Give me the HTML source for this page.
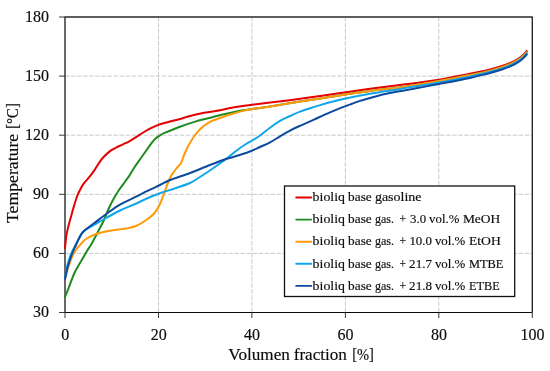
<!DOCTYPE html><html><head><meta charset="utf-8"><title>Distillation curves</title>
<style>html,body{margin:0;padding:0;background:#fff}svg{display:block}text{font-family:"Liberation Serif","DejaVu Serif",serif;fill:#0c0c0c;stroke:#0c0c0c;stroke-width:.16px}</style></head><body>
<svg width="550" height="371" viewBox="0 0 550 371">
<rect width="550" height="371" fill="#fff"/>
<g stroke="#c9c9cb" stroke-width="1" stroke-dasharray="4.5 1.55" fill="none"><line x1="65.0" y1="253.4" x2="532.3" y2="253.4"/><line x1="65.0" y1="194.3" x2="532.3" y2="194.3"/><line x1="65.0" y1="135.2" x2="532.3" y2="135.2"/><line x1="65.0" y1="76.1" x2="532.3" y2="76.1"/><line x1="158.5" y1="17.0" x2="158.5" y2="312.5"/><line x1="251.9" y1="17.0" x2="251.9" y2="312.5"/><line x1="345.4" y1="17.0" x2="345.4" y2="312.5"/><line x1="438.8" y1="17.0" x2="438.8" y2="312.5"/></g>
<path d="M65.0 312.5 V17.0 H532.3 V312.5" fill="none" stroke="#2a2a2a" stroke-width="1.4" stroke-linejoin="round"/>
<line x1="59.0" y1="312.5" x2="532.3" y2="312.5" stroke="#0a0a0a" stroke-width="1"/>
<g stroke="#3a3a3a" stroke-width="1"><line x1="59.0" y1="312.5" x2="65.0" y2="312.5"/><line x1="65.0" y1="312.5" x2="65.0" y2="318.0"/><line x1="59.0" y1="253.4" x2="65.0" y2="253.4"/><line x1="158.5" y1="312.5" x2="158.5" y2="318.0"/><line x1="59.0" y1="194.3" x2="65.0" y2="194.3"/><line x1="251.9" y1="312.5" x2="251.9" y2="318.0"/><line x1="59.0" y1="135.2" x2="65.0" y2="135.2"/><line x1="345.4" y1="312.5" x2="345.4" y2="318.0"/><line x1="59.0" y1="76.1" x2="65.0" y2="76.1"/><line x1="438.8" y1="312.5" x2="438.8" y2="318.0"/><line x1="59.0" y1="17.0" x2="65.0" y2="17.0"/><line x1="532.3" y1="312.5" x2="532.3" y2="318.0"/></g>
<path d="M65.0 248.0C65.2 246.0 65.8 239.5 66.3 236.0C66.8 232.5 67.5 230.0 68.2 227.0C68.9 224.0 69.7 221.2 70.6 218.0C71.5 214.8 72.3 211.7 73.4 208.0C74.5 204.3 76.0 199.2 77.2 196.0C78.4 192.8 79.4 191.1 80.5 189.0C81.6 186.9 82.6 185.1 84.0 183.2C85.4 181.3 87.3 179.4 89.0 177.4C90.7 175.4 92.4 173.2 94.0 170.9C95.6 168.6 96.9 166.0 98.5 163.7C100.1 161.4 101.5 159.2 103.6 157.0C105.7 154.8 108.6 152.2 111.0 150.4C113.4 148.7 115.8 147.7 118.2 146.5C120.6 145.3 123.5 144.1 125.5 143.2C127.5 142.3 128.2 141.9 130.0 140.9C131.8 139.9 133.7 138.7 136.0 137.2C138.3 135.7 141.3 133.6 144.0 132.0C146.7 130.4 149.3 128.9 152.0 127.6C154.7 126.3 157.0 125.2 160.0 124.2C163.0 123.2 166.7 122.4 170.0 121.5C173.3 120.6 175.7 120.2 180.0 119.0C184.3 117.8 190.0 115.7 196.0 114.4C202.0 113.1 209.3 112.2 216.0 111.0C222.7 109.8 230.0 108.0 236.0 107.0C242.0 106.0 246.3 105.5 252.0 104.8C257.7 104.1 262.0 103.6 270.0 102.6C278.0 101.6 287.4 100.5 300.0 98.8C312.6 97.1 333.9 94.0 345.6 92.3C357.3 90.6 360.9 90.0 370.0 88.8C379.1 87.6 388.5 86.6 400.0 85.1C411.5 83.6 427.3 81.7 439.0 79.8C450.7 77.9 462.1 75.3 470.0 73.8C477.9 72.2 480.9 71.8 486.4 70.5C491.8 69.2 498.2 67.3 502.7 65.8C507.2 64.3 510.7 62.8 513.6 61.4C516.5 60.0 518.2 58.8 520.0 57.5C521.8 56.2 523.4 54.7 524.5 53.6C525.6 52.5 526.3 51.4 526.7 51.0" fill="none" stroke="#e60000" stroke-width="2" stroke-linecap="round" stroke-linejoin="round"/>
<path d="M65.0 297.0C65.7 295.3 67.5 290.8 69.0 287.0C70.5 283.2 72.2 278.0 74.0 274.0C75.8 270.0 77.8 266.8 80.0 263.0C82.2 259.2 85.1 254.2 87.0 251.0C88.9 247.8 89.7 247.2 91.5 244.0C93.3 240.8 95.7 236.0 97.8 232.0C99.9 228.0 102.1 224.0 104.0 220.0C105.9 216.0 107.5 211.3 109.0 208.0C110.5 204.7 111.3 203.0 113.0 200.0C114.7 197.0 117.0 193.0 119.0 190.0C121.0 187.0 123.0 184.4 124.8 182.0C126.5 179.6 128.2 177.4 129.5 175.5C130.8 173.6 131.4 172.3 132.3 170.8C133.2 169.3 134.1 167.9 135.0 166.5C135.9 165.1 136.5 164.3 138.0 162.2C139.5 160.1 142.1 156.4 143.8 154.0C145.5 151.6 146.8 149.7 148.0 148.0C149.2 146.3 150.0 145.1 151.0 143.8C152.0 142.5 153.0 141.3 154.0 140.2C155.0 139.1 156.0 138.2 157.0 137.4C158.0 136.6 158.7 136.1 160.0 135.3C161.3 134.5 163.3 133.4 165.0 132.7C166.7 131.9 167.5 131.8 170.0 130.8C172.5 129.8 175.7 128.4 180.0 126.8C184.3 125.2 191.3 122.8 196.0 121.4C200.7 120.0 203.3 119.5 208.0 118.3C212.7 117.1 218.7 115.5 224.0 114.3C229.3 113.0 235.3 111.7 240.0 110.8C244.7 109.9 247.0 109.8 252.0 109.1C257.0 108.4 262.0 107.8 270.0 106.5C278.0 105.2 287.4 103.6 300.0 101.6C312.6 99.6 333.9 96.4 345.6 94.6C357.3 92.8 360.9 92.1 370.0 90.9C379.1 89.7 388.5 89.1 400.0 87.4C411.5 85.8 427.3 83.1 439.0 81.0C450.7 78.9 462.1 76.6 470.0 75.0C477.9 73.4 480.9 73.0 486.4 71.6C491.8 70.3 498.2 68.4 502.7 66.9C507.2 65.4 510.7 63.9 513.6 62.5C516.5 61.1 518.2 59.9 520.0 58.6C521.8 57.3 523.4 55.8 524.5 54.7C525.6 53.6 526.3 52.5 526.7 52.1" fill="none" stroke="#1f8a1f" stroke-width="2" stroke-linecap="round" stroke-linejoin="round"/>
<path d="M65.0 279.0C65.5 277.2 66.8 271.7 68.0 268.0C69.2 264.3 70.7 260.0 72.0 257.0C73.3 254.0 74.7 252.0 76.0 250.0C77.3 248.0 78.3 246.8 80.0 245.0C81.7 243.2 83.3 240.8 86.0 239.0C88.7 237.2 92.0 235.4 96.0 234.0C100.0 232.6 105.0 231.6 110.0 230.7C115.0 229.8 121.7 229.3 126.0 228.5C130.3 227.7 132.5 227.5 136.0 226.0C139.5 224.5 143.8 221.8 147.0 219.5C150.2 217.2 152.8 215.1 155.0 212.5C157.2 209.9 158.4 207.4 160.0 204.0C161.6 200.6 162.9 196.3 164.6 192.0C166.3 187.7 168.1 181.8 170.0 178.0C171.9 174.2 174.2 171.5 176.0 169.0C177.8 166.5 179.6 165.5 181.0 163.0C182.4 160.5 183.3 156.8 184.5 154.0C185.7 151.2 186.9 148.4 188.2 146.0C189.4 143.6 190.8 141.4 192.0 139.5C193.2 137.6 194.3 136.1 195.5 134.6C196.7 133.1 197.8 131.7 199.0 130.4C200.2 129.1 201.2 128.0 203.0 126.6C204.8 125.2 207.2 123.2 210.0 121.8C212.8 120.4 216.3 119.3 220.0 118.0C223.7 116.7 228.0 115.2 232.0 114.0C236.0 112.8 240.7 111.4 244.0 110.6C247.3 109.8 247.7 109.8 252.0 109.1C256.3 108.4 262.0 107.8 270.0 106.5C278.0 105.2 287.4 103.6 300.0 101.6C312.6 99.6 333.9 96.4 345.6 94.6C357.3 92.8 360.9 92.1 370.0 90.9C379.1 89.7 388.5 89.1 400.0 87.4C411.5 85.8 427.3 83.1 439.0 81.0C450.7 78.9 462.1 76.6 470.0 75.0C477.9 73.4 480.9 73.0 486.4 71.6C491.8 70.3 498.2 68.4 502.7 66.9C507.2 65.4 510.7 63.9 513.6 62.5C516.5 61.1 518.2 59.9 520.0 58.6C521.8 57.3 523.4 55.8 524.5 54.7C525.6 53.6 526.3 52.5 526.7 52.1" fill="none" stroke="#ff9a0a" stroke-width="2" stroke-linecap="round" stroke-linejoin="round"/>
<path d="M65.0 278.0C65.4 276.0 66.2 270.0 67.2 266.0C68.2 262.0 69.7 257.3 71.0 254.0C72.3 250.7 73.6 248.7 75.0 246.0C76.4 243.3 77.8 240.4 79.2 238.0C80.6 235.6 80.9 233.7 83.4 231.5C85.9 229.3 90.2 227.2 94.0 225.0C97.8 222.8 101.7 220.4 106.0 218.0C110.3 215.6 115.3 212.8 120.0 210.5C124.7 208.2 129.3 206.6 134.0 204.5C138.7 202.4 143.7 199.9 148.0 198.0C152.3 196.1 155.3 195.0 160.0 193.3C164.7 191.6 171.0 189.7 176.0 188.0C181.0 186.3 186.0 184.8 190.0 183.0C194.0 181.2 196.3 179.3 200.0 177.0C203.7 174.7 207.7 172.0 212.0 169.0C216.3 166.0 222.0 162.0 226.0 159.0C230.0 156.0 232.7 153.5 236.0 151.0C239.3 148.5 243.2 145.8 246.0 144.0C248.8 142.2 250.7 141.4 253.0 140.0C255.3 138.6 257.2 137.6 260.0 135.5C262.8 133.4 266.7 130.2 270.0 127.7C273.3 125.2 276.7 122.8 280.0 120.8C283.3 118.8 286.7 117.5 290.0 116.0C293.3 114.5 295.7 113.2 300.0 111.6C304.3 110.0 311.0 108.0 316.0 106.4C321.0 104.9 325.1 103.6 330.0 102.3C334.9 101.0 338.9 99.9 345.6 98.5C352.3 97.1 360.9 95.4 370.0 93.8C379.1 92.2 388.5 90.8 400.0 88.9C411.5 87.0 427.3 84.7 439.0 82.6C450.7 80.5 462.1 78.1 470.0 76.5C477.9 74.9 480.9 74.2 486.4 72.8C491.8 71.4 498.2 69.6 502.7 68.1C507.2 66.6 510.7 65.1 513.6 63.7C516.5 62.3 518.2 61.1 520.0 59.8C521.8 58.5 523.4 57.0 524.5 55.9C525.6 54.8 526.3 53.7 526.7 53.3" fill="none" stroke="#12a5ea" stroke-width="2" stroke-linecap="round" stroke-linejoin="round"/>
<path d="M65.0 279.0C65.5 276.8 66.8 270.2 68.0 266.0C69.2 261.8 70.7 257.5 72.0 254.0C73.3 250.5 74.7 247.9 76.0 245.0C77.3 242.1 78.7 238.8 80.0 236.5C81.3 234.2 81.7 233.2 84.0 231.0C86.3 228.8 90.3 226.1 94.0 223.3C97.7 220.5 101.7 217.3 106.0 214.2C110.3 211.1 115.3 207.3 120.0 204.6C124.7 201.8 129.3 200.0 134.0 197.7C138.7 195.4 143.7 192.8 148.0 190.7C152.3 188.6 156.3 186.8 160.0 185.0C163.7 183.2 165.0 182.0 170.0 180.0C175.0 178.0 183.3 175.5 190.0 173.0C196.7 170.5 204.0 167.3 210.0 165.0C216.0 162.7 220.0 161.0 226.0 159.0C232.0 157.0 240.3 155.0 246.0 153.0C251.7 151.0 256.0 148.8 260.0 147.0C264.0 145.2 266.7 144.2 270.0 142.4C273.3 140.6 276.7 138.3 280.0 136.3C283.3 134.3 286.7 132.3 290.0 130.6C293.3 128.8 296.0 127.6 300.0 125.8C304.0 124.0 309.0 121.8 314.0 119.6C319.0 117.3 324.7 114.5 330.0 112.3C335.3 110.0 341.9 107.5 345.6 106.1C349.3 104.7 349.6 104.7 352.0 103.8C354.4 102.9 357.0 101.9 360.0 100.9C363.0 99.9 366.7 99.0 370.0 98.0C373.3 97.0 376.7 96.0 380.0 95.2C383.3 94.4 386.7 93.8 390.0 93.1C393.3 92.4 395.0 92.1 400.0 91.2C405.0 90.3 413.5 88.7 420.0 87.5C426.5 86.3 430.7 85.6 439.0 84.0C447.3 82.4 462.1 79.6 470.0 77.9C477.9 76.2 480.9 75.4 486.4 74.0C491.8 72.6 498.2 70.8 502.7 69.3C507.2 67.8 510.7 66.3 513.6 64.9C516.5 63.5 518.2 62.3 520.0 61.0C521.8 59.7 523.4 58.2 524.5 57.1C525.6 56.0 526.3 54.9 526.7 54.5" fill="none" stroke="#0d4a9e" stroke-width="2" stroke-linecap="round" stroke-linejoin="round"/>
<text x="48.9" y="317.4" font-size="16.0" text-anchor="end">30</text>
<text x="48.9" y="258.3" font-size="16.0" text-anchor="end">60</text>
<text x="48.9" y="199.2" font-size="16.0" text-anchor="end">90</text>
<text x="48.9" y="140.1" font-size="16.0" text-anchor="end">120</text>
<text x="48.9" y="81.0" font-size="16.0" text-anchor="end">150</text>
<text x="48.9" y="21.9" font-size="16.0" text-anchor="end">180</text>
<text x="65.2" y="340.2" font-size="16.0" text-anchor="middle">0</text>
<text x="158.7" y="340.2" font-size="16.0" text-anchor="middle">20</text>
<text x="252.1" y="340.2" font-size="16.0" text-anchor="middle">40</text>
<text x="345.6" y="340.2" font-size="16.0" text-anchor="middle">60</text>
<text x="439.0" y="340.2" font-size="16.0" text-anchor="middle">80</text>
<text x="532.5" y="340.2" font-size="16.0" text-anchor="middle">100</text>
<text y="359.5" font-size="16.6"><tspan x="228.3" textLength="61.6" lengthAdjust="spacingAndGlyphs">Volumen</tspan> <tspan x="293.7" textLength="53.2" lengthAdjust="spacingAndGlyphs">fraction</tspan> <tspan x="352.2" textLength="21.7" lengthAdjust="spacingAndGlyphs">[%]</tspan></text>
<text y="0.0" font-size="16.6" transform="translate(17.9 0) rotate(-90)"><tspan x="-223.0" textLength="89.2" lengthAdjust="spacingAndGlyphs">Temperature</tspan> <tspan x="-128.8" textLength="25.6" lengthAdjust="spacingAndGlyphs">[°C]</tspan></text>
<rect x="284.5" y="186" width="230.2" height="110.5" fill="#fff" stroke="#111" stroke-width="1.3"/>
<line x1="296.2" y1="197.5" x2="311.2" y2="197.5" stroke="#e60000" stroke-width="1.9" stroke-linecap="round"/>
<text y="201.2" font-size="13.4"><tspan x="312.6" textLength="32.4" lengthAdjust="spacingAndGlyphs">bioliq</tspan> <tspan x="348.1" textLength="23.6" lengthAdjust="spacingAndGlyphs">base</tspan> <tspan x="374.9" textLength="46.7" lengthAdjust="spacingAndGlyphs">gasoline</tspan></text>
<line x1="296.2" y1="219.6" x2="311.2" y2="219.6" stroke="#1f8a1f" stroke-width="1.9" stroke-linecap="round"/>
<text y="223.2" font-size="13.4"><tspan x="312.6" textLength="32.4" lengthAdjust="spacingAndGlyphs">bioliq</tspan> <tspan x="348.1" textLength="23.6" lengthAdjust="spacingAndGlyphs">base</tspan> <tspan x="374.9" textLength="19.0" lengthAdjust="spacingAndGlyphs">gas.</tspan> <tspan x="399.6" textLength="6.6" lengthAdjust="spacingAndGlyphs">+</tspan> <tspan x="410.1" textLength="16.0" lengthAdjust="spacingAndGlyphs">3.0</tspan> <tspan x="429.1" textLength="30.2" lengthAdjust="spacingAndGlyphs">vol.%</tspan> <tspan x="462.9" textLength="37.4" lengthAdjust="spacingAndGlyphs">MeOH</tspan></text>
<line x1="296.2" y1="241.7" x2="311.2" y2="241.7" stroke="#ff9a0a" stroke-width="1.9" stroke-linecap="round"/>
<text y="245.3" font-size="13.4"><tspan x="312.6" textLength="32.4" lengthAdjust="spacingAndGlyphs">bioliq</tspan> <tspan x="348.1" textLength="23.6" lengthAdjust="spacingAndGlyphs">base</tspan> <tspan x="374.9" textLength="19.0" lengthAdjust="spacingAndGlyphs">gas.</tspan> <tspan x="399.6" textLength="6.6" lengthAdjust="spacingAndGlyphs">+</tspan> <tspan x="409.4" textLength="22.6" lengthAdjust="spacingAndGlyphs">10.0</tspan> <tspan x="434.9" textLength="30.5" lengthAdjust="spacingAndGlyphs">vol.%</tspan> <tspan x="469.0" textLength="31.8" lengthAdjust="spacingAndGlyphs">EtOH</tspan></text>
<line x1="296.2" y1="263.8" x2="311.2" y2="263.8" stroke="#12a5ea" stroke-width="1.9" stroke-linecap="round"/>
<text y="267.5" font-size="13.4"><tspan x="312.6" textLength="32.4" lengthAdjust="spacingAndGlyphs">bioliq</tspan> <tspan x="348.1" textLength="23.6" lengthAdjust="spacingAndGlyphs">base</tspan> <tspan x="374.9" textLength="19.0" lengthAdjust="spacingAndGlyphs">gas.</tspan> <tspan x="399.6" textLength="6.6" lengthAdjust="spacingAndGlyphs">+</tspan> <tspan x="409.1" textLength="22.9" lengthAdjust="spacingAndGlyphs">21.7</tspan> <tspan x="434.9" textLength="30.5" lengthAdjust="spacingAndGlyphs">vol.%</tspan> <tspan x="469.0" textLength="34.4" lengthAdjust="spacingAndGlyphs">MTBE</tspan></text>
<line x1="296.2" y1="285.9" x2="311.2" y2="285.9" stroke="#0d4a9e" stroke-width="1.9" stroke-linecap="round"/>
<text y="289.6" font-size="13.4"><tspan x="312.6" textLength="32.4" lengthAdjust="spacingAndGlyphs">bioliq</tspan> <tspan x="348.1" textLength="23.6" lengthAdjust="spacingAndGlyphs">base</tspan> <tspan x="374.9" textLength="19.0" lengthAdjust="spacingAndGlyphs">gas.</tspan> <tspan x="399.6" textLength="6.6" lengthAdjust="spacingAndGlyphs">+</tspan> <tspan x="409.1" textLength="22.9" lengthAdjust="spacingAndGlyphs">21.8</tspan> <tspan x="434.9" textLength="30.5" lengthAdjust="spacingAndGlyphs">vol.%</tspan> <tspan x="469.0" textLength="30.7" lengthAdjust="spacingAndGlyphs">ETBE</tspan></text>
</svg></body></html>
